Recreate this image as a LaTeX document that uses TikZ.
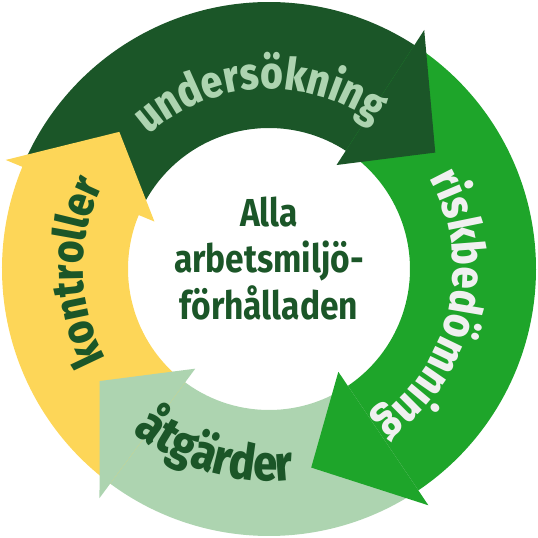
\documentclass[tikz,border=0pt]{standalone}
\usepackage{fontspec}
\setmainfont{Fira Sans}[FakeStretch=0.86]
\newfontfamily\ringfont{Fira Sans}[FakeStretch=0.86, BoldFont={Fira Sans ExtraBold}]
\usetikzlibrary{decorations.text}
\definecolor{dkgreen}{RGB}{27,86,40}
\definecolor{mdgreen}{RGB}{30,165,42}
\definecolor{ltgreen}{RGB}{173,212,176}
\definecolor{yell}{RGB}{253,214,88}
\definecolor{offwhite}{RGB}{240,240,240}
\tikzset{
  ctext/.style={text=dkgreen, font=\bfseries\fontsize{39}{39}\selectfont, inner sep=0pt, anchor=base},
  ringtext/.style 2 args={decorate, decoration={text along path, text align=center, text color=#1, text={#2}}}
}
\begin{document}
\begin{tikzpicture}
\useasboundingbox (-269pt,-269pt) rectangle (269pt,269pt);
% bodies
\fill[dkgreen] (157.5:267pt) arc[start angle=157.5,end angle=56,radius=267pt] -- (56:141pt) arc[start angle=56,end angle=157.5,radius=141pt] -- cycle;
\fill[mdgreen] (57:267pt) arc[start angle=57,end angle=-57,radius=267pt] -- (-57:141pt) arc[start angle=-57,end angle=57,radius=141pt] -- cycle;
\fill[ltgreen] (-56:267pt) arc[start angle=-56,end angle=-127.5,radius=267pt] -- (-127.5:141pt) arc[start angle=-127.5,end angle=-56,radius=141pt] -- cycle;
\fill[yell] (233.5:267pt) arc[start angle=233.5,end angle=156.5,radius=267pt] -- (156.5:141pt) arc[start angle=156.5,end angle=233.5,radius=141pt] -- cycle;
% heads
\fill[dkgreen] (57:285pt) -- (35:203pt) -- (57:124pt) -- cycle;
\fill[mdgreen] (-56:285pt) -- (-78:203pt) -- (-56:124pt) -- cycle;
\fill[ltgreen] (233.5:285pt) -- (213.5:203pt) -- (233.5:124pt) -- cycle;
\fill[yell] (157.5:285pt) -- (137.5:203pt) -- (157.5:124pt) -- cycle;
% ring labels
\path[ringtext={ltgreen}{|\ringfont\bfseries\fontsize{45}{45}\selectfont|undersökning}] (153:180pt) arc[start angle=153,end angle=33,radius=180pt];
\path[ringtext={offwhite}{|\ringfont\bfseries\fontsize{46}{46}\selectfont|riskbedömning}] (47:184pt) arc[start angle=47,end angle=-73,radius=184pt];
\path[ringtext={dkgreen}{|\ringfont\bfseries\fontsize{45}{45}\selectfont|kontroller}] (241:186pt) arc[start angle=241,end angle=121,radius=186pt];
\path[ringtext={dkgreen}{|\ringfont\bfseries\fontsize{50}{50}\selectfont|åtgärder}] (203.5:212pt) arc[start angle=203.5,end angle=303.5,radius=212pt];
% centre
\node[ctext] (l1) at (0,42pt) {Alla};
\node[ctext] (l2) at (0,-3pt) {arbetsmiljö-};
\node[ctext] (l3) at (0,-50pt) {förhålladen};
\end{tikzpicture}
\end{document}
